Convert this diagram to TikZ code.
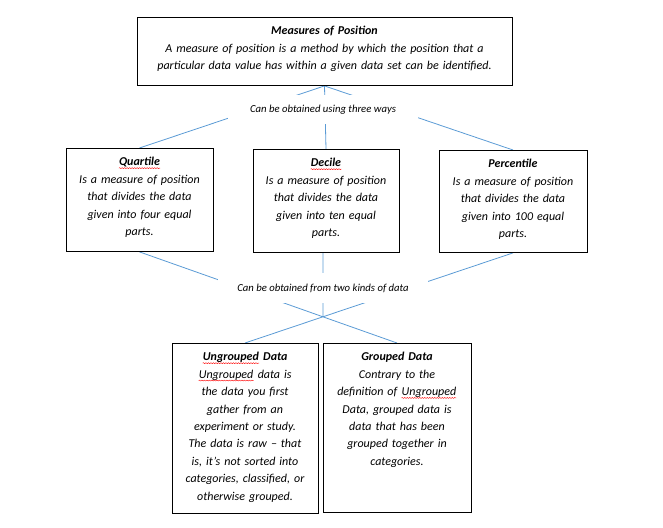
\documentclass[tikz,border=0pt]{standalone}
\usepackage{fontspec}
\setmainfont{Carlito}
\usetikzlibrary{backgrounds,decorations.pathmorphing}
\definecolor{linkblue}{RGB}{91,155,213}
\newcommand\spellwave[1]{\tikz[baseline=(w.base)]{\node[inner sep=0pt] (w) {#1};\draw[red,line width=0.4pt,decorate,decoration={snake,amplitude=0.5pt,segment length=2.5pt}] ([yshift=-2.2pt]w.base west) -- ([yshift=-2.2pt]w.base east);}}
\begin{document}
\begin{tikzpicture}[x=1pt,y=-1pt,
	box/.style={draw,line width=0.9pt,anchor=north,align=center,inner xsep=3pt,inner ysep=5pt,text height=12.5pt,font=\fontsize{12}{17.4}\selectfont\itshape},
	way/.style={fill=white,inner sep=0pt,font=\fontsize{10.7}{13}\selectfont\itshape},
	link/.style={linkblue,line width=0.8pt}]
	\useasboundingbox (0,0) rectangle (663,527);
	\node[box,text width=369pt,text depth=45.5pt] (measures) at (324.5,17) {\textbf{Measures of Position}\\A measure of position is a method by which the position that a\\particular data value has within a given data set can be identified.};
	\node[box,text width=141pt,text depth=80.5pt] (quartile) at (139.5,148) {\textbf{\spellwave{Quartile}}\\Is a measure of position\\that divides the data\\given into four equal\\parts.};
	\node[box,text width=140pt,text depth=80.5pt] (decile) at (326,149) {\textbf{\spellwave{Decile}}\\Is a measure of position\\that divides the data\\given into ten equal\\parts.};
	\node[box,text width=142pt,text depth=79.5pt] (percentile) at (513,150) {\textbf{Percentile}\\Is a measure of position\\that divides the data\\given into 100 equal\\parts.};
	\node[box,text width=140pt,text depth=147.5pt] (ungrouped) at (245,343) {\textbf{\spellwave{Ungrouped} Data}\\\spellwave{Ungrouped} data is\\the data you first\\gather from an\\experiment or study.\\The data is raw -- that\\is, it's not sorted into\\categories, classified, or\\otherwise grouped.};
	\node[box,text width=142pt,text depth=146.5pt] (grouped) at (397,343) {\textbf{Grouped Data}\\Contrary to the\\definition of \spellwave{Ungrouped}\\Data, grouped data is\\data that has been\\grouped together in\\categories.};
	\node[way,minimum width=190pt,minimum height=29pt] (threeways) at (323,109.5) {Can be obtained using three ways};
	\node[way,minimum width=210pt,minimum height=30pt] (twokinds) at (323,288) {Can be obtained from two kinds of data};
	\coordinate (cross) at (intersection of quartile.south--grouped.north and percentile.south--ungrouped.north);
	\begin{scope}[on background layer]
		\draw[link] (measures.south) -- (quartile.north) (measures.south) -- (percentile.north) (measures.south) -- (decile.north);
		\draw[link] (quartile.south) -- (grouped.north) (percentile.south) -- (ungrouped.north) (cross |- decile.south) -- (cross);
	\end{scope}
\end{tikzpicture}
\end{document}
